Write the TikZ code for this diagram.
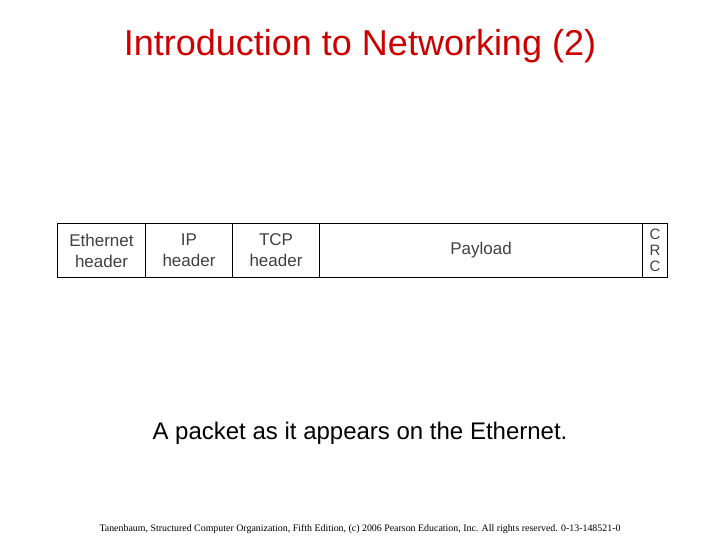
\documentclass[tikz,border=0pt]{standalone}
\usepackage{fontspec}
\setmainfont{Liberation Sans}
\newfontfamily\serifft{Liberation Serif}
\begin{document}
\begin{tikzpicture}[x=1pt,y=-1pt,
  fld/.style={draw=black,line width=1pt,minimum height=54pt,inner sep=0pt,anchor=north west,text=black!75,font=\fontsize{17}{21}\selectfont,align=center}]
\useasboundingbox (0,0) rectangle (720,540);
\node[text={rgb,255:red,204;green,0;blue,0},font=\fontsize{36}{40}\selectfont] (title) at (360,46) {Introduction to Networking (2)};
\node[fld,minimum width=88pt] (eth) at (57,223) {Ethernet\\header};
\node[fld,minimum width=87pt] (ip) at (145,223) {IP\\header};
\node[fld,minimum width=87pt] (tcp) at (232,223) {TCP\\header};
\node[fld,minimum width=323pt] (pay) at (319,223) {Payload};
\node[fld,minimum width=25pt,font=\fontsize{15}{16}\selectfont] (crc) at (642,223) {C\\R\\C};
\node[font=\fontsize{24}{28}\selectfont] (cap) at (360,433) {A packet as it appears on the Ethernet.};
\node[font=\serifft\fontsize{9.9}{12}\selectfont] (foot) at (360,529) {Tanenbaum, Structured Computer Organization, Fifth Edition, (c) 2006 Pearson Education, Inc. All rights reserved. 0-13-148521-0};
\end{tikzpicture}
\end{document}
